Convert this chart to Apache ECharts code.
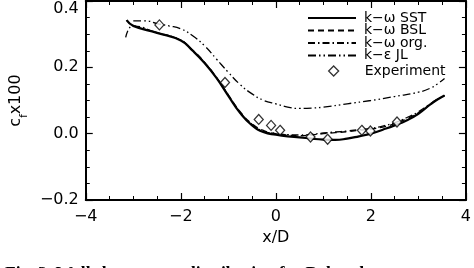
<!DOCTYPE html>
<html>
<head>
<meta charset="utf-8">
<script src="https://cdn.jsdelivr.net/npm/echarts@6/dist/echarts.min.js"></script>
<style>html,body{margin:0;padding:0;background:#fff}#c{width:474px;height:268px}</style>
</head>
<body>
<div id="c"></div>
<script>
// ---- data ----
const xTicks = [-4, -2, 0, 2, 4];
const yTicks = [-0.2, 0.0, 0.2, 0.4];

const sstX = [-3.14,-3.0,-2.5,-2.0,-1.75,-1.5,-1.25,-1.0,-0.75,-0.5,-0.25,0,0.25,0.5,0.75,1.0,1.25,1.5,1.75,2.0,2.25,2.5,2.75,3.0,3.25,3.4,3.55];
const sstY = [0.342,0.325,0.304,0.281,0.25,0.213,0.168,0.114,0.062,0.025,0.004,-0.003,-0.008,-0.011,-0.015,-0.018,-0.019,-0.015,-0.008,0.0,0.012,0.025,0.04,0.06,0.088,0.103,0.115];

const bslX = [-3.14,-3.0,-2.5,-2.0,-1.75,-1.5,-1.25,-1.0,-0.75,-0.5,-0.25,0,0.25,0.5,0.75,1.0,1.25,1.5,1.75,2.0,2.25,2.5,2.75,3.0,3.25,3.4,3.55];
const bslY = [0.342,0.326,0.305,0.282,0.252,0.215,0.17,0.117,0.066,0.03,0.009,0.0,-0.004,-0.006,-0.004,0.0,0.003,0.006,0.01,0.014,0.02,0.03,0.045,0.063,0.088,0.103,0.115];

const orgX = [-3.16,-3.06,-3.0,-2.5,-2.0,-1.75,-1.5,-1.25,-1.0,-0.75,-0.5,-0.25,0,0.25,0.5,0.75,1.0,1.25,1.5,1.75,2.0,2.25,2.5,2.75,3.0,3.25,3.4,3.55];
const orgY = [0.29,0.322,0.324,0.304,0.282,0.251,0.214,0.169,0.116,0.064,0.028,0.007,0.001,-0.003,-0.004,-0.002,0.002,0.005,0.008,0.012,0.016,0.023,0.033,0.048,0.066,0.09,0.104,0.115];

const jlX = [-3.0,-2.75,-2.5,-2.25,-2.0,-1.75,-1.5,-1.25,-1.0,-0.75,-0.5,-0.25,0,0.25,0.5,0.75,1.0,1.5,2.0,2.5,3.0,3.25,3.4,3.55];
const jlY = [0.34,0.34,0.332,0.325,0.316,0.295,0.265,0.225,0.185,0.148,0.12,0.1,0.09,0.08,0.076,0.077,0.08,0.09,0.1,0.112,0.125,0.137,0.15,0.166];

const expX = [-2.45,-1.07,-0.36,-0.1,0.09,0.73,1.09,1.81,1.99,2.55];
const expY = [0.328,0.154,0.043,0.025,0.01,-0.01,-0.017,0.01,0.008,0.035];

const names = ['k\u2212\u03c9 SST','k\u2212\u03c9 BSL','k\u2212\u03c9 org.','k\u2212\u03b5 JL','Experiment'];
const caption = 'Fig. 3  Wall shear stress distribution for Delery bump';

const zip = (a, b) => a.map((v, i) => [v, b[i]]);

const chart = echarts.init(document.getElementById('c'), null, {renderer: 'canvas'});
const FONT = 'DejaVu Sans';
const axisCommon = {
  axisLine: {show: true, onZero: false, lineStyle: {color: '#000', width: 2}},
  axisTick: {show: true, inside: true, length: 7, lineStyle: {color: '#000', width: 1.2}},
  minorTick: {show: true, splitNumber: 4, length: 4, lineStyle: {color: '#000', width: 1}},
  splitLine: {show: false},
  minorSplitLine: {show: false}
};
const hiddenSym = {opacity: 0};
const legendText = {fontFamily: FONT, fontSize: 14, color: '#000', lineHeight: 12};

const option = {
  animation: false,
  backgroundColor: '#fff',
  title: {
    text: caption,
    left: 0, top: 259,
    textStyle: {fontFamily: 'Liberation Serif', fontWeight: 'bold', fontSize: 17.5, color: '#000'}
  },
  grid: {left: 84, right: 2, top: 1, bottom: 68},
  legend: [
    {
      orient: 'vertical', left: 302, top: 6,
      itemWidth: 48, itemHeight: 9, itemGap: -1.5,
      textStyle: Object.assign({padding: [0, 0, 0, 3]}, legendText),
      data: [
        {name: names[0], itemStyle: hiddenSym}, {name: names[1], itemStyle: hiddenSym},
        {name: names[2], itemStyle: hiddenSym}, {name: names[3], itemStyle: hiddenSym}
      ]
    },
    {
      orient: 'vertical', left: 323, top: 59,
      itemWidth: 10, itemHeight: 10, itemGap: 0,
      textStyle: Object.assign({padding: [0, 0, 0, 21]}, legendText),
      data: [
        {name: names[4], icon: 'diamond',
          itemStyle: {color: '#fff', borderColor: '#000', borderWidth: 1.3}}
      ]
    }
  ],
  xAxis: [
    Object.assign({}, axisCommon, {
      type: 'value', min: -4, max: 4, interval: 2,
      name: 'x/D', nameLocation: 'middle', nameGap: 30,
      nameTextStyle: {fontFamily: FONT, fontSize: 16, color: '#000'},
      axisLabel: {fontFamily: FONT, fontSize: 16, color: '#000', margin: 9,
        formatter: v => xTicks.includes(v) ? String(v).replace('-', '\u2212') : ''}
    }),
    Object.assign({}, axisCommon, {
      type: 'value', min: -4, max: 4, interval: 2, position: 'top',
      axisLabel: {show: false}
    })
  ],
  yAxis: [
    Object.assign({}, axisCommon, {
      type: 'value', min: -0.2, max: 0.4, interval: 0.2,
      name: '{a|c}{s|f}{a|x100}', nameLocation: 'middle', nameGap: 58,
      nameTextStyle: {rich: {
        a: {fontFamily: FONT, fontSize: 16, color: '#000'},
        s: {fontFamily: FONT, fontSize: 10, color: '#000', verticalAlign: 'bottom', padding: [0, 0, -5, 0]}
      }},
      axisLabel: {fontFamily: FONT, fontSize: 16, color: '#000', margin: 7,
        verticalAlignMaxLabel: 'top',
        formatter: v => yTicks.some(t => Math.abs(t - v) < 1e-9) ? v.toFixed(1).replace('-', '\u2212') : ''}
    }),
    Object.assign({}, axisCommon, {
      type: 'value', min: -0.2, max: 0.4, interval: 0.2, position: 'right',
      axisLabel: {show: false}
    })
  ],
  series: [
    {name: names[0], type: 'line', data: zip(sstX, sstY), smooth: 0.5, symbol: 'none',
      itemStyle: {color: '#000'}, lineStyle: {color: '#000', width: 2.2, type: 'solid'}},
    {name: names[1], type: 'line', data: zip(bslX, bslY), smooth: 0.5, symbol: 'none',
      itemStyle: {color: '#000'}, lineStyle: {color: '#000', width: 1.3, type: [6, 4]}},
    {name: names[2], type: 'line', data: zip(orgX, orgY), smooth: 0.5, symbol: 'none',
      itemStyle: {color: '#000'}, lineStyle: {color: '#000', width: 1.3, type: [7, 3, 1.5, 3]}},
    {name: names[3], type: 'line', data: zip(jlX, jlY), smooth: 0.5, symbol: 'none',
      itemStyle: {color: '#000'}, lineStyle: {color: '#000', width: 1.3, type: [8, 3, 1.5, 3, 1.5, 3]}},
    {name: names[4], type: 'scatter', data: zip(expX, expY), symbol: 'diamond', symbolSize: [9, 10],
      itemStyle: {color: '#fff', borderColor: '#000', borderWidth: 1.3}, z: 5}
  ]
};
chart.setOption(option);
</script>
</body>
</html>
